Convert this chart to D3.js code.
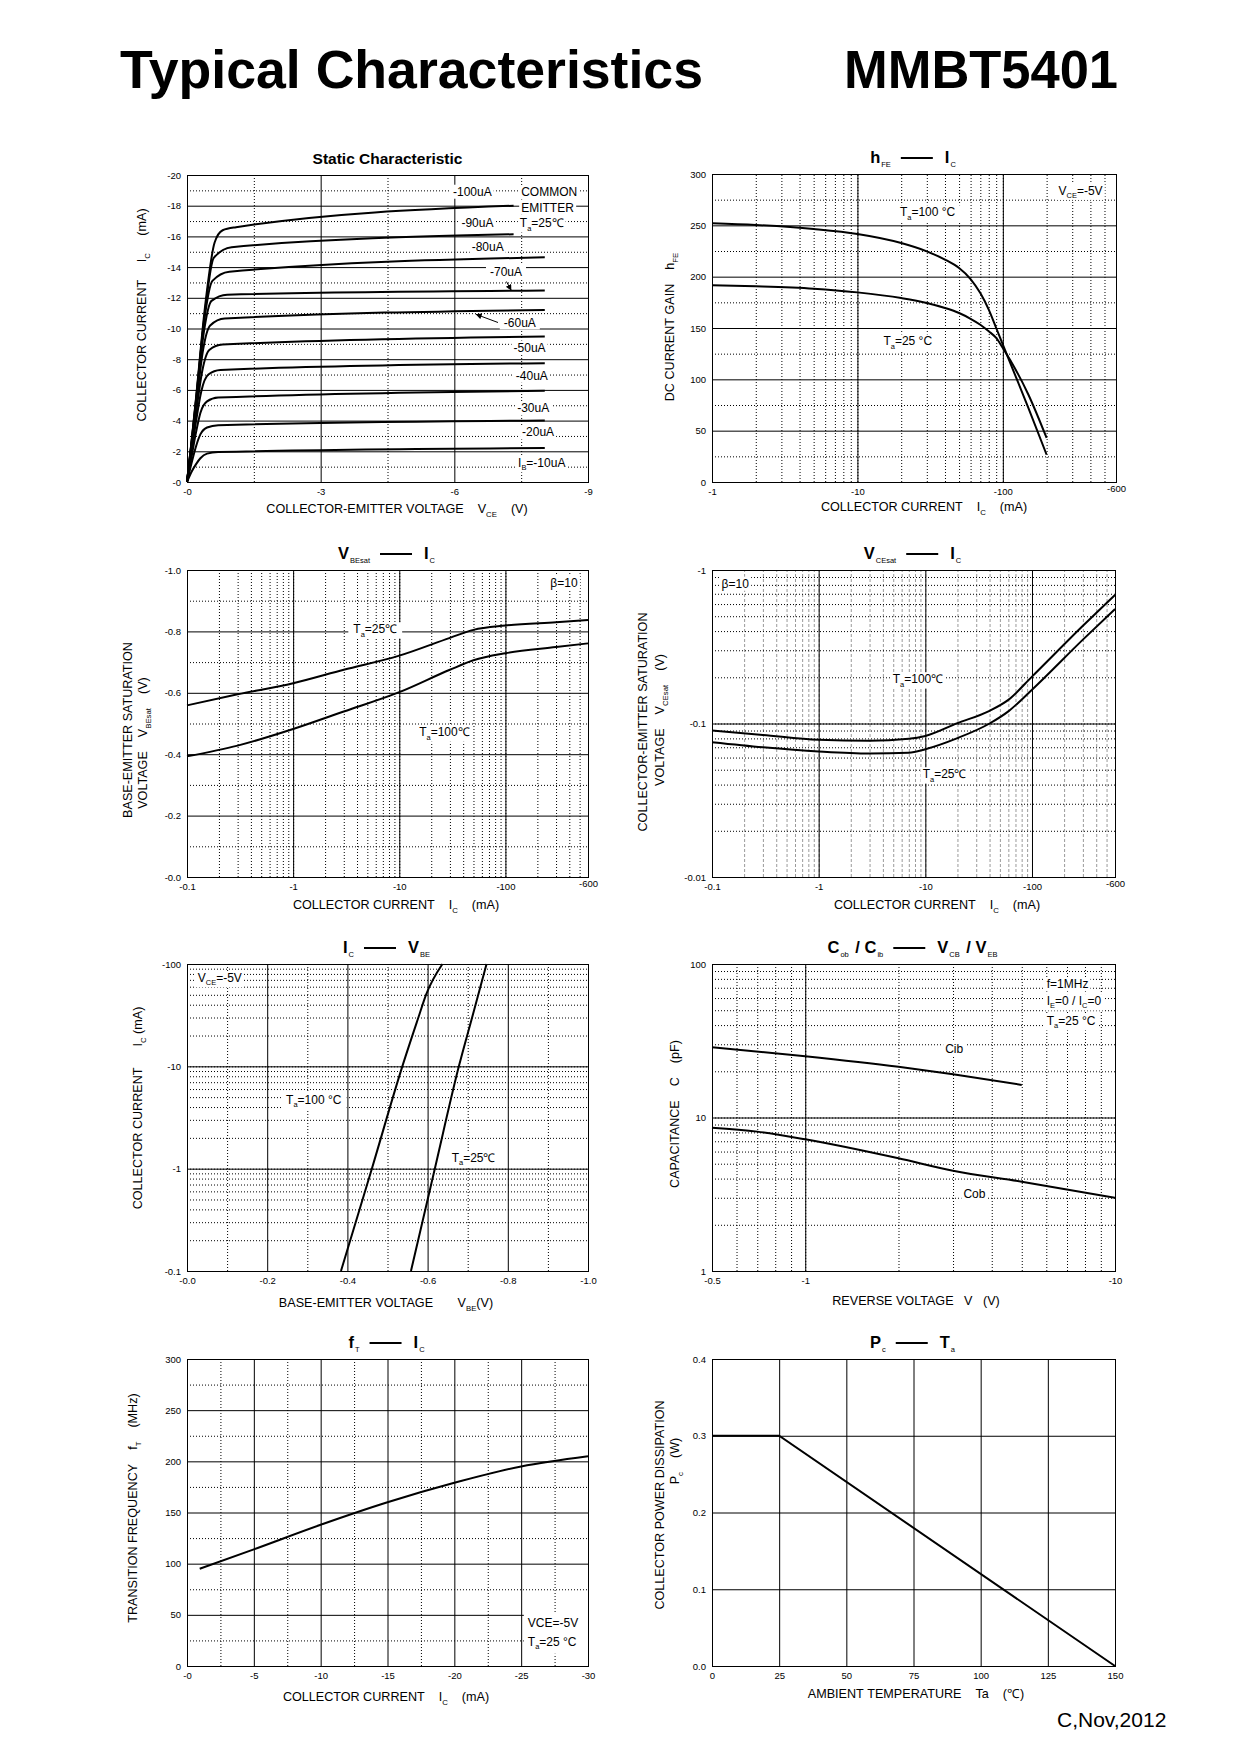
<!DOCTYPE html>
<html>
<head>
<meta charset="utf-8">
<script src="https://cdn.jsdelivr.net/npm/d3@7"></script>
<style>
  body { margin: 0; background: #fff; }
  svg { font-family: "Liberation Sans", Arial, Helvetica, sans-serif; }
  .minor line { stroke: #000; stroke-dasharray: 1,2; }
  .minorgray line { stroke: #9a9a9a; stroke-dasharray: 3,2; }
  .major line { stroke: #000; }
  .ticklab text { font-size: 9.5px; fill: #000; font-family: "Liberation Sans", Arial, sans-serif; }
  .curve { fill: none; stroke: #000; stroke-width: 2; }
  .frame { fill: none; stroke: #000; stroke-width: 1; }
</style>
</head>
<body>
<script>
// ---------- data ----------
// static characteristic: Ic (mA) vs Vce (V), one curve per base current (uA)
var ibSteps = [10, 20, 30, 40, 50, 60, 70, 80, 90, 100];
var staticCurves = [
  [[0,0],[0.1,0.65],[0.2,1.15],[0.3,1.55],[0.45,1.85],[0.7,1.95],[8.03,2.21]],
  [[0,0],[0.1,1.2],[0.2,2.3],[0.3,3.1],[0.45,3.55],[0.7,3.7],[8.03,4.01]],
  [[0,0],[0.1,1.6],[0.2,3.2],[0.3,4.5],[0.45,5.25],[0.7,5.5],[8.03,5.94]],
  [[0,0],[0.1,1.9],[0.2,3.9],[0.32,5.9],[0.48,7.0],[0.75,7.3],[8.03,7.74]],
  [[0,0],[0.1,2.1],[0.2,4.4],[0.34,7.2],[0.5,8.6],[0.8,8.95],[8.03,9.48]],
  [[0,0],[0.1,2.3],[0.2,4.8],[0.36,8.6],[0.52,10.2],[0.85,10.65],[8.03,11.21]],
  [[0,0],[0.1,2.4],[0.2,5.0],[0.38,9.8],[0.55,11.8],[0.9,12.2],[8.03,12.47]],
  [[0,0],[0.1,2.5],[0.2,5.2],[0.4,10.8],[0.57,13.1],[0.95,13.7],[8.03,14.64]],
  [[0,0],[0.1,2.55],[0.2,5.3],[0.4,11.0],[0.6,14.6],[1.0,15.3],[7.33,16.14]],
  [[0,0],[0.1,2.6],[0.2,5.4],[0.4,11.3],[0.62,15.6],[0.8,16.4],[1.1,16.6],[7.33,18.0]]
];
var ibLabels = ["I_{B}=-10uA", "-20uA", "-30uA", "-40uA", "-50uA", "-60uA", "-70uA", "-80uA", "-90uA", "-100uA"];
var vceTicks = [0, 3, 6, 9];
var icTicks = [0, 2, 4, 6, 8, 10, 12, 14, 16, 18, 20];

// hFE vs Ic
var hfeIc = [1, 2, 5, 10, 20, 30, 40, 50, 60, 70, 80, 90, 100, 150, 200];
var hfeT100 = [252, 250.3, 246.4, 241.6, 232.8, 224.7, 216.6, 208.4, 197.7, 184, 167.9, 150, 133.8, 72, 26.6];
var hfeT25 = [191.6, 190.6, 188.3, 184.7, 179.2, 174.4, 169.5, 164.6, 159, 153.2, 146.8, 140.3, 130.5, 85, 42.9];
var hfeTicks = [0, 50, 100, 150, 200, 250, 300];
var icLogTicks = [1, 10, 100, 600];

// VBEsat vs Ic
var vbeIc = [0.1, 0.3, 1, 3, 10, 30, 50, 100, 300, 600];
var vbeT25 = [0.559, 0.595, 0.631, 0.675, 0.721, 0.779, 0.805, 0.819, 0.830, 0.837];
var vbeT100 = [0.393, 0.428, 0.482, 0.539, 0.602, 0.675, 0.706, 0.729, 0.749, 0.761];
var satIcTicks = [0.1, 1, 10, 100, 600];
var vbeTicks = [0, 0.2, 0.4, 0.6, 0.8, 1.0];

// VCEsat vs Ic
var vceIc = [0.1, 0.3, 1, 3, 7, 10, 20, 40, 60, 100, 300, 600];
var vceT100 = [0.09, 0.0843, 0.0783, 0.0772, 0.0795, 0.083, 0.1005, 0.121, 0.1426, 0.202, 0.433, 0.688];
var vceT25 = [0.0756, 0.0701, 0.0658, 0.0638, 0.0645, 0.068, 0.0803, 0.1, 0.12, 0.166, 0.352, 0.557];
var vceSatTicks = [0.01, 0.1, 1];

// Ic vs VBE  [VBE (V), Ic (mA)]
var icVbeT100 = [[0.384,0.1],[0.461,1],[0.537,10],[0.577,30],[0.596,50],[0.637,100]];
var icVbeT25 = [[0.5585,0.1],[0.618,1],[0.678,10],[0.711,30],[0.747,100]];
var vbeAxisTicks = [0, 0.2, 0.4, 0.6, 0.8, 1.0];
var icVbeTicks = [0.1, 1, 10, 100];

// Cob / Cib vs reverse voltage  [V, pF]
var cibPts = [[0.5,28.7],[1,25.1],[2,21.4],[3,19.1],[5,16.3]];
var cobPts = [[0.5,8.59],[0.7,8.09],[1,7.21],[2,5.42],[3,4.5],[5,3.82],[10,3.0]];
var revTicks = [0.5, 1, 10];
var capTicks = [1, 10, 100];

// fT vs Ic
var ftIc = [0.95, 5, 10, 15, 20, 25, 30];
var ftMHz = [95, 114, 138, 160, 179, 195, 205];
var ftIcTicks = [0, 5, 10, 15, 20, 25, 30];
var ftTicks = [0, 50, 100, 150, 200, 250, 300];

// Pc vs Ta
var pcTa = [0, 25, 150];
var pcW = [0.3, 0.3, 0];
var taTicks = [0, 25, 50, 75, 100, 125, 150];
var pcTicks = [0, 0.1, 0.2, 0.3, 0.4];

// ---------- drawing ----------
var AX = 12.6;   // axis title size

var svg = d3.select("body").append("svg")
    .attr("width", 1240)
    .attr("height", 1754);

svg.append("rect").attr("width", 1240).attr("height", 1754).attr("fill", "#fff");

svg.append("defs").append("marker")
    .attr("id", "arrow")
    .attr("markerUnits", "userSpaceOnUse")
    .attr("markerWidth", 7).attr("markerHeight", 7)
    .attr("refX", 6).attr("refY", 3)
    .attr("orient", "auto")
  .append("path").attr("d", "M0,0 L6,3 L0,6 z").attr("fill", "#000");

// header + footer
svg.append("text").attr("x", 120).attr("y", 88)
    .attr("font-size", 54).attr("font-weight", "bold")
    .attr("textLength", 583).attr("lengthAdjust", "spacingAndGlyphs")
    .text("Typical Characteristics");
svg.append("text").attr("x", 844).attr("y", 88)
    .attr("font-size", 54).attr("font-weight", "bold")
    .attr("textLength", 274).attr("lengthAdjust", "spacingAndGlyphs")
    .text("MMBT5401");
svg.append("text").attr("x", 1057).attr("y", 1727)
    .attr("font-size", 21)
    .text("C,Nov,2012");

// text with _{sub} markup
function rich(text, str, size) {
  var subSize = size * 0.62, shift = size * 0.28, down = false;
  str.split(/(_\{[^}]*\})/).forEach(function(p) {
    if (!p) return;
    var sub = p.indexOf("_{") === 0;
    var ts = text.append("tspan").text((sub ? p.slice(2, -1) : p).replace(/ /g, "\u00a0"));
    if (sub) {
      ts.attr("font-size", subSize).attr("dy", down ? 0 : shift);
      down = true;
    } else {
      if (down) ts.attr("dy", -shift);
      down = false;
    }
  });
  return text;
}

function panel(c) {
  var g = svg.append("g").attr("transform", "translate(" + c.left + "," + c.top + ")");
  var x = c.x.range([0, c.w]), y = c.y.range([c.h, 0]);
  var p = {g: g, x: x, y: y, w: c.w, h: c.h};

  function vgrid(vals, cls) {
    g.append("g").attr("class", cls)
        .attr("transform", "translate(0," + c.h + ")")
        .call(d3.axisBottom(x).tickValues(vals).tickSize(-c.h).tickFormat(""))
        .call(function(s) { s.select(".domain").remove(); });
  }
  function hgrid(vals, cls) {
    g.append("g").attr("class", cls)
        .call(d3.axisLeft(y).tickValues(vals).tickSize(-c.w).tickFormat(""))
        .call(function(s) { s.select(".domain").remove(); });
  }
  if (c.xMinor) vgrid(c.xMinor, c.xMinorClass || "minor");
  if (c.yMinor) hgrid(c.yMinor, "minor");
  vgrid(c.xMajor, "major");
  hgrid(c.yMajor, "major");

  var xa = g.append("g").attr("class", "ticklab")
      .attr("transform", "translate(0," + c.h + ")")
      .call(d3.axisBottom(x).tickValues(c.xTicks).tickFormat(c.xFmt).tickSize(0).tickPadding(6));
  xa.select(".domain").remove();
  xa.selectAll(".tick").filter(function(d) { return d === 600; }).select("text").attr("y", 3);
  var ya = g.append("g").attr("class", "ticklab")
      .call(d3.axisLeft(y).tickValues(c.yTicks).tickFormat(c.yFmt).tickSize(0).tickPadding(6));
  ya.select(".domain").remove();

  // axis titles
  rich(g.append("text").attr("x", c.xTitle[0]).attr("y", c.h + c.xTitle[1])
      .attr("text-anchor", "middle").attr("font-size", AX), c.xTitle[2], AX);
  c.yTitle.forEach(function(t) {
    rich(g.append("text")
        .attr("transform", "translate(" + (t[0] + 4) + "," + t[1] + ") rotate(-90)")
        .attr("text-anchor", "middle").attr("font-size", AX), t[2], AX);
  });

  // chart title
  var tg = g.append("g"), tx = 0, ty = -11;
  c.title.forEach(function(part) {
    if (part === "dash") {
      tg.append("line").attr("x1", tx + 8).attr("x2", tx + 40)
          .attr("y1", ty - 5).attr("y2", ty - 5)
          .attr("stroke", "#000").attr("stroke-width", 2);
      tx += 52;
      return;
    }
    var m = tg.append("text").attr("x", tx).attr("y", ty)
        .attr("font-weight", "bold").attr("font-size", part.size || 16.5)
        .text(part.m.replace(/ /g, "\u00a0"));
    tx += m.node().getComputedTextLength();
    if (part.s) {
      var s = tg.append("text").attr("x", tx + 1).attr("y", ty + 4)
          .attr("font-size", 7.5).text(part.s);
      tx += s.node().getComputedTextLength() + 3;
    }
  });
  tg.attr("transform", "translate(" + (c.w / 2 - tx / 2) + ",0)");

  return p;
}

function frame(p) {
  p.g.append("rect").attr("class", "frame")
      .attr("x", 0.5).attr("y", 0.5).attr("width", p.w).attr("height", p.h);
}

function note(p, xv, yv, str, o) {
  o = o || {};
  var size = o.size || 12;
  var t = p.g.append("text").attr("x", p.x(xv)).attr("y", p.y(yv)).attr("font-size", size);
  rich(t, str, size);
  if (o.bg !== false) {
    var b = t.node().getBBox(), pad = o.pad == null ? 2 : o.pad;
    p.g.insert("rect", function() { return t.node(); })
        .attr("x", b.x - pad).attr("y", b.y)
        .attr("width", b.width + 2 * pad).attr("height", b.height)
        .attr("fill", "#fff");
  }
  return t;
}

function curve(p, pts) {
  p.g.append("path").attr("class", "curve")
      .attr("d", d3.line()
          .x(function(d) { return p.x(d[0]); })
          .y(function(d) { return p.y(d[1]); })
          .curve(d3.curveMonotoneX)(pts));
}

function zip(xs, ys) { return xs.map(function(v, i) { return [v, ys[i]]; }); }
function logMinor(s) { return s.copy().ticks(); }
var neg = function(d) { return "-" + d; };
var neg1 = function(d) { return "-" + d3.format(".1f")(d); };

// 1. static characteristic
var p1 = panel({
  left: 187, top: 175, w: 401, h: 307,
  x: d3.scaleLinear().domain([0, 9]), y: d3.scaleLinear().domain([0, 20]),
  xMajor: [3, 6], xMinor: [1.5, 4.5, 7.5],
  yMajor: d3.range(2, 20, 2), yMinor: d3.range(1, 20, 2),
  xTicks: vceTicks, xFmt: neg, yTicks: icTicks, yFmt: neg,
  xTitle: [210, 31, "COLLECTOR-EMITTER VOLTAGE    V_{CE}    (V)"],
  yTitle: [[-45, 140, "COLLECTOR CURRENT     I_{C}     (mA)"]],
  title: [{m: "Static Characteristic", size: 15.5}]
});
staticCurves.forEach(function(c) { curve(p1, c); });
var ibPos = [[7.43,0.98],[7.52,2.97],[7.41,4.53],[7.38,6.66],[7.33,8.5],[7.11,10.13],[6.8,13.45],[6.39,15.08],[6.16,16.64],[5.97,18.65]];
ibLabels.forEach(function(l, i) { note(p1, ibPos[i][0], ibPos[i][1], l, {pad: i === 6 || i === 5 ? 4 : 2}); });
note(p1, 7.5, 18.6, "COMMON");
note(p1, 7.5, 17.6, "EMITTER");
note(p1, 7.47, 16.6, "T_{a}=25℃");
p1.g.append("line").attr("x1", p1.x(7.17)).attr("y1", p1.y(13.06))
    .attr("x2", p1.x(7.28)).attr("y2", p1.y(12.47))
    .attr("stroke", "#000").attr("marker-end", "url(#arrow)");
p1.g.append("line").attr("x1", p1.x(6.98)).attr("y1", p1.y(10.39))
    .attr("x2", p1.x(6.48)).attr("y2", p1.y(10.93))
    .attr("stroke", "#000").attr("marker-end", "url(#arrow)");
frame(p1);

// 2. hFE - Ic
var x2 = d3.scaleLog().domain([1, 600]);
var p2 = panel({
  left: 712, top: 174, w: 404, h: 308,
  x: x2, y: d3.scaleLinear().domain([0, 300]),
  xMajor: [10, 100], xMinor: logMinor(x2),
  yMajor: d3.range(50, 300, 50), yMinor: d3.range(25, 300, 50),
  xTicks: icLogTicks, xFmt: neg, yTicks: hfeTicks, yFmt: String,
  xTitle: [212, 29, "COLLECTOR CURRENT    I_{C}    (mA)"],
  yTitle: [[-42, 153, "DC CURRENT GAIN    h_{FE}"]],
  title: [{m: "h", s: "FE"}, "dash", {m: "I", s: "C"}]
});
curve(p2, zip(hfeIc, hfeT100));
curve(p2, zip(hfeIc, hfeT25));
note(p2, 241.7, 280, "V_{CE}=-5V");
note(p2, 19.6, 258.8, "T_{a}=100 °C", {pad: 6});
note(p2, 15.1, 133, "T_{a}=25 °C", {pad: 4});
frame(p2);

// 3. VBEsat - Ic
var x3 = d3.scaleLog().domain([0.1, 600]);
var p3 = panel({
  left: 187, top: 570, w: 401, h: 307,
  x: x3, y: d3.scaleLinear().domain([0, 1.0]),
  xMajor: [1, 10, 100], xMinor: logMinor(x3),
  yMajor: [0.2, 0.4, 0.6, 0.8], yMinor: [0.1, 0.3, 0.5, 0.7, 0.9],
  xTicks: satIcTicks, xFmt: neg, yTicks: vbeTicks, yFmt: neg1,
  xTitle: [209, 32, "COLLECTOR CURRENT    I_{C}    (mA)"],
  yTitle: [[-59, 160, "BASE-EMITTER SATURATION"], [-44, 173, "VOLTAGE    V_{BEsat}    (V)"]],
  title: [{m: "V", s: "BEsat"}, "dash", {m: "I", s: "C"}]
});
curve(p3, zip(vbeIc, vbeT25));
curve(p3, zip(vbeIc, vbeT100));
note(p3, 265, 0.946, "β=10");
note(p3, 3.69, 0.794, "T_{a}=25℃", {pad: 5});
note(p3, 15.4, 0.458, "T_{a}=100℃");
frame(p3);

// 4. VCEsat - Ic
var x4 = d3.scaleLog().domain([0.1, 600]), y4 = d3.scaleLog().domain([0.01, 1]);
var p4 = panel({
  left: 712, top: 570, w: 403, h: 307,
  x: x4, y: y4,
  xMajor: [1, 10, 100], xMinor: logMinor(x4), xMinorClass: "minorgray",
  yMajor: [0.1], yMinor: logMinor(y4),
  xTicks: satIcTicks, xFmt: neg, yTicks: vceSatTicks, yFmt: neg,
  xTitle: [225, 32, "COLLECTOR CURRENT    I_{C}    (mA)"],
  yTitle: [[-69, 152, "COLLECTOR-EMITTER SATURATION"], [-52, 150, "VOLTAGE    V_{CEsat}    (V)"]],
  title: [{m: "V", s: "CEsat"}, "dash", {m: "I", s: "C"}]
});
curve(p4, zip(vceIc, vceT100));
curve(p4, zip(vceIc, vceT25));
note(p4, 0.123, 0.767, "β=10");
note(p4, 4.95, 0.183, "T_{a}=100℃");
note(p4, 9.44, 0.044, "T_{a}=25℃");
frame(p4);

// 5. Ic - VBE
var y5 = d3.scaleLog().domain([0.1, 100]);
var p5 = panel({
  left: 187, top: 964, w: 401, h: 307,
  x: d3.scaleLinear().domain([0, 1.0]), y: y5,
  xMajor: [0.2, 0.4, 0.6, 0.8], xMinor: [0.1, 0.3, 0.5, 0.7, 0.9],
  yMajor: [1, 10], yMinor: logMinor(y5),
  xTicks: vbeAxisTicks, xFmt: neg1, yTicks: icVbeTicks, yFmt: neg,
  xTitle: [199, 36, "BASE-EMITTER VOLTAGE       V_{BE}(V)"],
  yTitle: [[-49, 144, "COLLECTOR CURRENT      I_{C} (mA)"]],
  title: [{m: "I", s: "C"}, "dash", {m: "V", s: "BE"}]
});
curve(p5, icVbeT100);
curve(p5, icVbeT25);
note(p5, 0.027, 66.7, "V_{CE}=-5V");
note(p5, 0.247, 4.3, "T_{a}=100 °C", {pad: 5});
note(p5, 0.66, 1.16, "T_{a}=25℃", {pad: 4});
frame(p5);

// 6. Cob / Cib - V
var x6 = d3.scaleLog().domain([0.5, 10]), y6 = d3.scaleLog().domain([1, 100]);
var p6 = panel({
  left: 712, top: 964, w: 403, h: 307,
  x: x6, y: y6,
  xMajor: [1], xMinor: logMinor(x6),
  yMajor: [10], yMinor: logMinor(y6),
  xTicks: revTicks, xFmt: neg, yTicks: capTicks, yFmt: String,
  xTitle: [204, 34, "REVERSE VOLTAGE   V   (V)"],
  yTitle: [[-37, 150, "CAPACITANCE    C    (pF)"]],
  title: [{m: "C", s: "ob"}, {m: " / "}, {m: "C", s: "ib"}, "dash", {m: "V", s: "CB"}, {m: " / "}, {m: "V", s: "EB"}]
});
curve(p6, cibPts);
curve(p6, cobPts);
note(p6, 6.02, 69.4, "f=1MHz");
note(p6, 6.02, 54, "I_{E}=0 / I_{C}=0");
note(p6, 6.02, 40, "T_{a}=25 °C");
note(p6, 2.83, 26.4, "Cib");
note(p6, 3.24, 2.97, "Cob");
frame(p6);

// 7. fT - Ic
var p7 = panel({
  left: 187, top: 1359, w: 401, h: 307,
  x: d3.scaleLinear().domain([0, 30]), y: d3.scaleLinear().domain([0, 300]),
  xMajor: d3.range(5, 30, 5), xMinor: d3.range(2.5, 30, 5),
  yMajor: d3.range(50, 300, 50), yMinor: d3.range(25, 300, 50),
  xTicks: ftIcTicks, xFmt: neg, yTicks: ftTicks, yFmt: String,
  xTitle: [199, 35, "COLLECTOR CURRENT    I_{C}    (mA)"],
  yTitle: [[-54, 149, "TRANSITION FREQUENCY    f_{T}    (MHz)"]],
  title: [{m: "f", s: "T"}, "dash", {m: "I", s: "C"}]
});
curve(p7, zip(ftIc, ftMHz));
p7.g.append("rect").attr("fill", "#fff")
    .attr("x", p7.x(25.2)).attr("y", p7.y(52))
    .attr("width", p7.x(30) - p7.x(25.2)).attr("height", p7.y(12) - p7.y(52));
note(p7, 25.5, 37.8, "VCE=-5V", {bg: false});
note(p7, 25.5, 19.6, "T_{a}=25 °C", {bg: false});
frame(p7);

// 8. Pc - Ta
var p8 = panel({
  left: 712, top: 1359, w: 403, h: 307,
  x: d3.scaleLinear().domain([0, 150]), y: d3.scaleLinear().domain([0, 0.4]),
  xMajor: d3.range(25, 150, 25),
  yMajor: [0.1, 0.2, 0.3],
  xTicks: taTicks, xFmt: String, yTicks: pcTicks, yFmt: d3.format(".1f"),
  xTitle: [204, 32, "AMBIENT TEMPERATURE    Ta    (℃)"],
  yTitle: [[-52, 146, "COLLECTOR POWER DISSIPATION"], [-37, 102, "P_{c}    (W)"]],
  title: [{m: "P", s: "c"}, "dash", {m: "T", s: "a"}]
});
p8.g.append("path").attr("class", "curve")
    .attr("d", d3.line().x(function(d) { return p8.x(d[0]); }).y(function(d) { return p8.y(d[1]); })(zip(pcTa, pcW)));
frame(p8);
</script>
</body>
</html>
